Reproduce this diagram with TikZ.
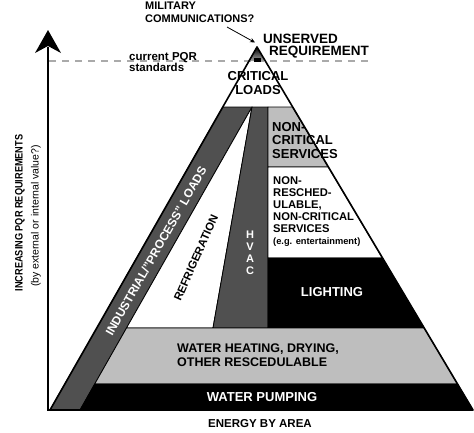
\documentclass[tikz,border=0pt]{standalone}
\usepackage{fontspec}
\setmainfont{Liberation Sans}
\usetikzlibrary{arrows.meta}
\definecolor{darkband}{HTML}{505050}
\definecolor{lightband}{HTML}{BEBEBE}
\definecolor{dashgray}{HTML}{AAAAAA}
\begin{document}
\begin{tikzpicture}[x=1pt,y=-1pt,line join=round,
  lbl/.style={inner sep=0pt,font=\bfseries},
  fs/.style={font=\bfseries\fontsize{#1}{#1}\selectfont},
  region/.style={draw=black,line width=0.8pt},
  whitelbl/.style={text=white}]
\useasboundingbox (0,0) rectangle (474,432);
% key points
\coordinate (apex) at (257,47);
\coordinate (BL) at (50,410);
\coordinate (BR) at (473,410);
\coordinate (O) at (48,410);
\coordinate (axtop) at (48,47);
\coordinate (xend) at (473,410);
% dashed standards line
\coordinate (dashL) at (49,61);
\coordinate (dashR) at (372,61);
\draw[dashgray,line width=1.8pt,dash pattern=on 7pt off 6pt] (dashL) -- (dashR);
% industrial strip
\filldraw[region,fill=darkband] (222.8,107) -- (252,107) -- (80,410) -- (50,410) -- cycle;
% refrigeration wedge
\filldraw[region,fill=white] (252,107) -- (126.5,328) -- (213,328) -- cycle;
% HVAC strip
\filldraw[region,fill=darkband] (252,107) -- (268,107) -- (268,328) -- (213,328) -- cycle;
% non-critical services
\filldraw[region,fill=lightband] (268,107) -- (292.4,107) -- (328.2,167) -- (268,167) -- cycle;
% non-reschedulable
\filldraw[region,fill=white] (268,167) -- (328.2,167) -- (382.4,258) -- (268,258) -- cycle;
% lighting
\filldraw[region,fill=black] (268,258) -- (382.4,258) -- (424.1,328) -- (268,328) -- cycle;
% water heating
\filldraw[region,fill=lightband] (126.5,328) -- (424.1,328) -- (457.5,384) -- (94.7,384) -- cycle;
% water pumping
\filldraw[region,fill=black] (94.7,384) -- (457.5,384) -- (473,410) -- (80,410) -- cycle;
% unserved requirement triangle
\shade[top color=black,bottom color=gray!70] (apex) -- (265,61) -- (249,61) -- cycle;
\fill[black] (253.5,58) rectangle (261,61.5);
% pyramid outline
\draw[line width=1.6pt] (apex) -- (BR) -- (BL) -- cycle;
% axes
\draw[line width=2pt] (O) -- (axtop);
\fill (48,30) -- (61,53) -- (48,46) -- (35,53) -- cycle;
\draw[line width=2pt] (47,410) -- (xend);
% top labels
\node[lbl,fs=11,align=left,anchor=west] (mil) at (145,12.5) {MILITARY\\[1.5pt]COMMUNICATIONS?};
\coordinate (milarrow) at (227,27);
\coordinate (triarrow) at (255,42.5);
\draw[line width=0.8pt,-{Stealth[length=5pt,width=4.5pt]}] (milarrow) -- (triarrow);
\node[lbl,fs=13.5,anchor=west] (uns) at (263,39) {UNSERVED};
\node[lbl,fs=13.5,anchor=west] (req) at (269,52) {REQUIREMENT};
\node[lbl,fs=11.5,align=left,anchor=west] (std) at (129,62) {current PQR\\standards};
\node[lbl,fs=13,align=center] (crit) at (258,83) {CRITICAL\\[1pt]LOADS};
% right column labels
\node[lbl,fs=13,align=left,anchor=west] (ncs) at (272,140.5) {NON-\\[0.5pt]CRITICAL\\[0.5pt]SERVICES};
\node[lbl,anchor=west,align=left,font=\bfseries\fontsize{11.2}{12}\selectfont] (nrs) at (273,212) {NON-\\RESCHED-\\ULABLE,\\NON-CRITICAL\\SERVICES\\{\fontsize{9.3}{12}\selectfont (e.g. entertainment)}};
\node[lbl,fs=13,whitelbl] (light) at (332,292) {LIGHTING};
\node[lbl,fs=11,whitelbl,align=center] (hvac) at (250,253) {H\\[1pt]V\\[1pt]A\\[1pt]C};
\node[lbl,fs=12,whitelbl,rotate=60.4] (ind) at (156,251) {INDUSTRIAL/"PROCESS" LOADS};
\node[lbl,fs=11.3,rotate=66] (refr) at (196,258) {REFRIGERATION};
\node[lbl,fs=12.5,align=left,anchor=west] (wh) at (177,355) {WATER HEATING, DRYING,\\[1pt]OTHER RESCEDULABLE};
\node[lbl,fs=13,whitelbl] (wp) at (262,397) {WATER PUMPING};
% axis labels
\node[lbl,fs=11.5] (xlab) at (260,424) {ENERGY BY AREA};
\node[lbl,rotate=90,font=\bfseries\fontsize{10.8}{12}\selectfont] (ylab1) at (20,213) {\scalebox{0.85}[1]{INCREASING PQR REQUIREMENTS}};
\node[inner sep=0pt,rotate=90,font=\fontsize{10.5}{12}\selectfont] (ylab2) at (36,216) {(by external or internal value?)};
\end{tikzpicture}
\end{document}
